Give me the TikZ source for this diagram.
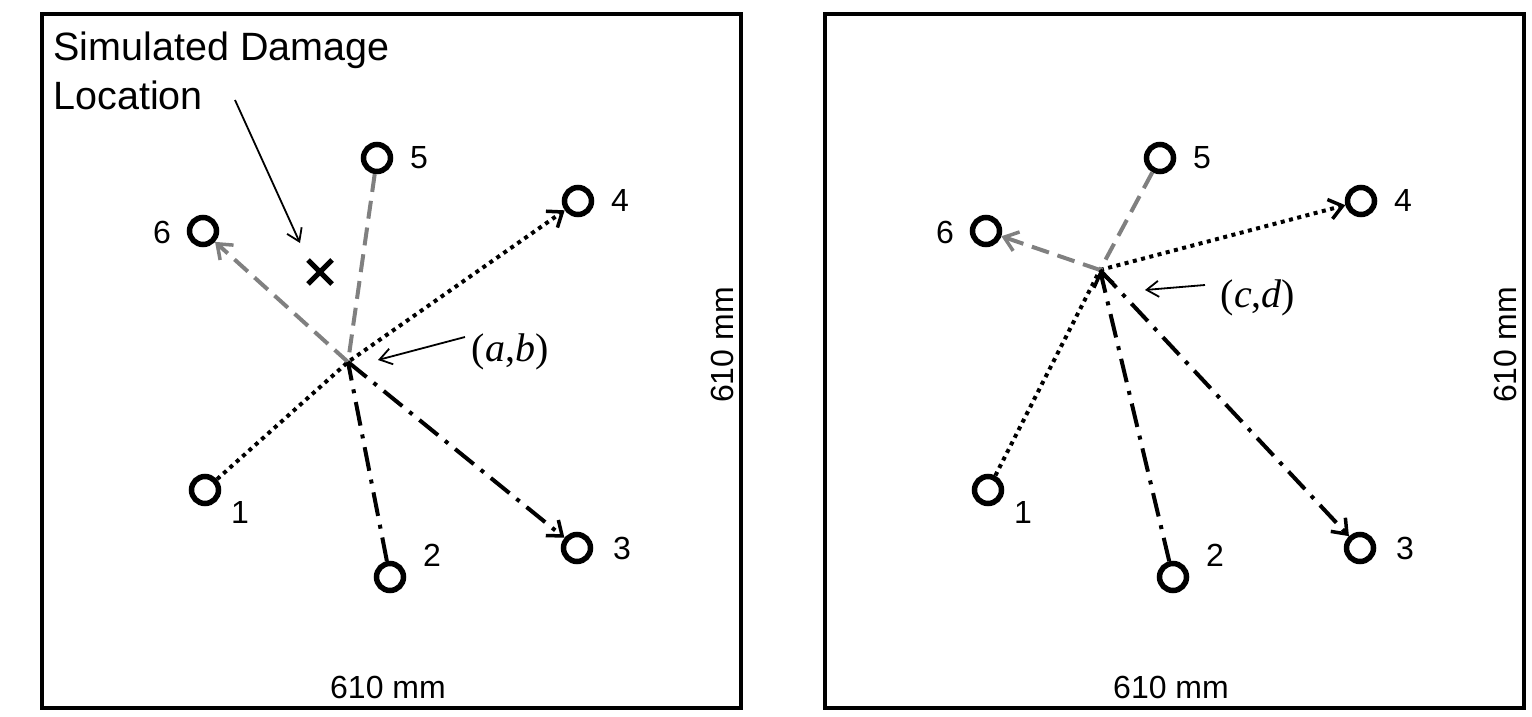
\documentclass[tikz,border=0pt]{standalone}
\usepackage{fontspec}
\setmainfont{Liberation Sans}
\newfontfamily\serif{Liberation Serif}
\usetikzlibrary{arrows.meta,calc}
\begin{document}
\begin{tikzpicture}[x=1pt,y=-1pt,
  sensor/.style={circle,draw,line width=5.5pt,minimum size=27pt,inner sep=0pt},
  lbl/.style={font=\fontsize{32}{34}\selectfont},
  dotl/.style={line width=4pt,dash pattern=on 4pt off 4.5pt},
  dashg/.style={line width=4pt,gray,dash pattern=on 18pt off 9pt},
  dashdotl/.style={line width=4pt,dash pattern=on 24pt off 9pt on 4pt off 9pt},
  arr/.style={-{Straight Barb[length=13pt,width=20pt,line width=3.5pt]}},
  thin/.style={line width=1.8pt,-{Straight Barb[length=12pt,width=16pt,line width=1.8pt]}},
  frame/.style={line width=4pt}]
\useasboundingbox (0,0) rectangle (1532,717);
\foreach \ox/\pre in {0/L,783/R}{
  \draw[frame] (42+\ox,14) rectangle (741+\ox,708);
  \node[sensor] (\pre1) at (205+\ox,490) {};
  \node[sensor] (\pre2) at (390+\ox,577) {};
  \node[sensor] (\pre3) at (577+\ox,548) {};
  \node[sensor] (\pre4) at (578+\ox,201) {};
  \node[sensor] (\pre5) at (377+\ox,158) {};
  \node[sensor] (\pre6) at (203+\ox,231) {};
  \node[lbl] (\pre t1) at (240+\ox,512) {1};
  \node[lbl] (\pre t2) at (432+\ox,555) {2};
  \node[lbl] (\pre t3) at (622+\ox,548) {3};
  \node[lbl] (\pre t4) at (620+\ox,200) {4};
  \node[lbl] (\pre t5) at (419+\ox,158) {5};
  \node[lbl] (\pre t6) at (162+\ox,232) {6};
  \node[lbl] (\pre w) at (388+\ox,687) {610 mm};
  \node[lbl,rotate=90] (\pre h) at (722+\ox,345) {610 mm};
}
% left
\coordinate (P) at (348,362);
\draw[dotl,arr] (L1) -- (P) -- (L4);
\draw[dashg] (L5) -- (P);
\draw[dashg,arr] (P) -- (L6);
\draw[dashdotl] (L2) -- (P);
\draw[dashdotl,arr] (P) -- (L3);
\coordinate (X) at (320,272);
\draw[line width=5pt] ($(X)+(-12,-12)$) -- ($(X)+(12,12)$) ($(X)+(-12,12)$) -- ($(X)+(12,-12)$);
\node[font=\fontsize{39.5}{49}\selectfont,align=left,anchor=north west] (sd) at (50,28) {Simulated Damage\\Location};
\coordinate (sa) at (235,100);
\draw[thin] (sa) -- (300,243);
\node[font=\fontsize{40}{40}\serif] (ab) at (510,352) {(\textit{a},\textit{b})};
\draw[thin] (465,337) -- (378,360);
% right
\coordinate (Q) at (1100,270);
\draw[dotl] (R1) -- (Q);
\draw[dotl,arr] (Q) -- (R4);
\draw[dashg] (R5) -- (Q);
\draw[dashg,arr] (Q) -- (R6);
\draw[dashdotl,arr] (R2) -- (Q);
\draw[dashdotl,arr] (Q) -- (R3);
\node[font=\fontsize{40}{40}\serif] (cd) at (1258,298) {(\textit{c},\textit{d})};
\draw[thin] (1205,285) -- (1145,290);
\end{tikzpicture}
\end{document}
